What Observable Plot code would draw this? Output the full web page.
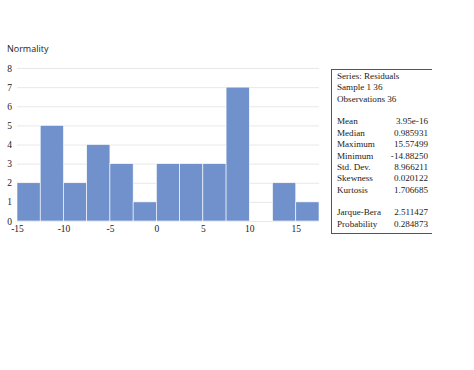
<!DOCTYPE html>
<html><head><meta charset="utf-8">
<script src="https://cdn.jsdelivr.net/npm/d3@7"></script>
<script src="https://cdn.jsdelivr.net/npm/@observablehq/plot@0.6"></script>
<style>
body{margin:0;background:#fff;}
#wrap{position:relative;width:474px;height:370px;overflow:hidden;}
#title{position:absolute;left:7px;top:42px;font:9px "Open Sans",Arial,sans-serif;color:#222;}
#chart{position:absolute;left:0;top:60px;}
#stats{position:absolute;left:331px;top:69px;width:101px;height:165px;border-left:1px solid #555;border-top:1px solid #555;border-bottom:1px solid #555;font:9.1px "Liberation Serif","Times New Roman",serif;color:#222;box-sizing:border-box;padding:1px 4px 0 5px;}
#stats .r{display:flex;justify-content:space-between;height:11.37px;line-height:11.37px;white-space:nowrap;}
</style></head><body>
<div id="wrap">
<div id="title">Normality</div>
<div id="chart"></div>
<div id="stats"></div>
</div>
<script>
const binStart = [-15,-12.5,-10,-7.5,-5,-2.5,0,2.5,5,7.5,10,12.5,15];
const binWidth = 2.5;
const counts = [2,5,2,4,3,1,3,3,3,7,0,2,1];
const xTicks = [-15,-10,-5,0,5,10,15];
const yTicks = [0,1,2,3,4,5,6,7,8];
const statLabels = ["Series: Residuals","Sample 1 36","Observations 36","","Mean","Median","Maximum","Minimum","Std. Dev.","Skewness","Kurtosis","","Jarque-Bera","Probability"];
const statValues = ["","","","","3.95e-16","0.985931","15.57499","-14.88250","8.966211","0.020122","1.706685","","2.511427","0.284873"];

const bins = binStart.map((s,i)=>({x1:s,x2:s+binWidth,y:counts[i]})).filter(d=>d.y>0);

const plot = Plot.plot({
  width:474, height:310,
  marginTop:8, marginBottom:149, marginLeft:17, marginRight:155,
  style:{fontFamily:'"Liberation Serif","Times New Roman",serif',fontSize:"9.5px",color:"#222"},
  x:{domain:[-15,17.5],ticks:xTicks,tickSize:0,tickPadding:4,label:null,tickFormat:d=>String(d)},
  y:{domain:[0,8],ticks:yTicks,tickSize:0,tickPadding:5,label:null},
  marks:[
    Plot.ruleY(yTicks,{stroke:"#e8e8e8",strokeWidth:1}),
    Plot.rectY(bins,{x1:"x1",x2:"x2",y:"y",fill:"#7091cc",stroke:"#ffffff",strokeWidth:0.6}),
    Plot.axisX({ticks:xTicks,tickSize:0,tickPadding:4,tickFormat:d=>String(d)}),
    Plot.axisY({ticks:yTicks,tickSize:0,tickPadding:5,textAnchor:"middle",dx:-3})
  ]
});
document.getElementById("chart").appendChild(plot);

const st = document.getElementById("stats");
statLabels.forEach((l,i)=>{
  const r=document.createElement("div");r.className="r";
  const a=document.createElement("span");a.textContent=l||"\u00a0";
  const b=document.createElement("span");b.textContent=statValues[i];
  r.appendChild(a);r.appendChild(b);st.appendChild(r);
});
</script>
</body></html>
